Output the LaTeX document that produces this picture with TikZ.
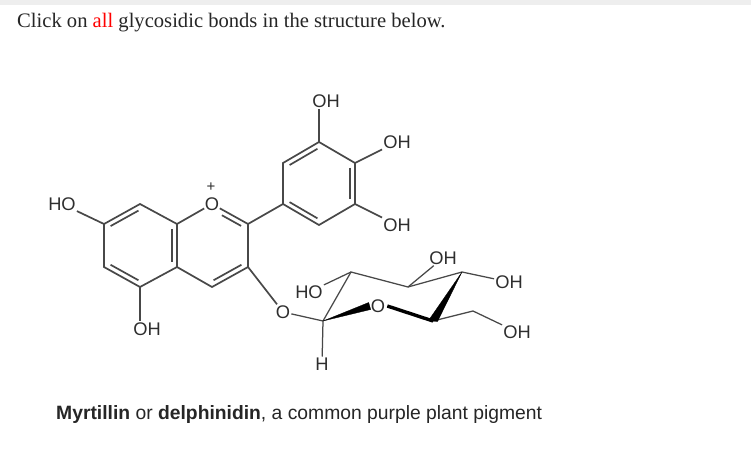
\documentclass[tikz,border=0pt]{standalone}
\usepackage{fontspec}
\setmainfont{Liberation Serif}
\newfontfamily\arialfont{Liberation Sans}
\usetikzlibrary{calc}
\definecolor{bondgray}{HTML}{484848}
\definecolor{inkgray}{HTML}{2E2E2E}
\definecolor{bandgray}{HTML}{EEEEEE}
\tikzset{
  atom/.style={font=\arialfont\fontsize{18.3}{20}\selectfont, text=inkgray, inner sep=1pt},
  bond/.style={draw=bondgray, line width=1.7pt},
  thinbond/.style={draw=bondgray, line width=1.25pt},
  wedge/.style={fill=black, draw=black, line width=0.3pt, line join=round},
  caption/.style={font=\arialfont\fontsize{19.3}{22}\selectfont, text=black!85, inner sep=0pt, anchor=base west},
  heading/.style={font=\fontsize{20.6}{24}\selectfont, text=black!85, inner sep=0pt, anchor=base west}
}
\newcommand{\innerbond}[3]{\draw[bond] ($(#1)!.05!(#2)!.14!(#3)$) -- ($(#2)!.05!(#1)!.14!(#3)$);}
\begin{document}
\begin{tikzpicture}[x=1pt,y=-1pt]
\useasboundingbox[fill=white] (0,0) rectangle (751,470);
\fill[bandgray] (0,0) rectangle (751,5);
\node[heading] (title) at (17,28) {Click on \textcolor{red}{all} glycosidic bonds in the structure below.};
\node[caption] (cap) at (56,419) {\textbf{Myrtillin} or \textbf{delphinidin}, a common purple plant pigment};
% ring A / C coordinates
\coordinate (c7) at (104,224); \coordinate (c8) at (140,204); \coordinate (c8a) at (177,224);
\coordinate (c2) at (248,224); \coordinate (c3) at (248,267); \coordinate (c4) at (212,287);
\coordinate (c4a) at (177,267); \coordinate (c5) at (140,287); \coordinate (c6) at (104,267);
\coordinate (cenA) at (140,245); \coordinate (cenC) at (212,245);
% ring B
\coordinate (b1) at (283,204); \coordinate (b2) at (283,163); \coordinate (b3) at (319,142);
\coordinate (b4) at (355,163); \coordinate (b5) at (355,204); \coordinate (b6) at (319,225);
\coordinate (cenB) at (319,184);
% sugar
\coordinate (s1) at (323,321); \coordinate (s2) at (351,272); \coordinate (s3) at (408,287);
\coordinate (s4) at (462,272); \coordinate (s5) at (433,321); \coordinate (s6) at (473,311);
% labels
\node[atom] (ho7) at (62,204) {HO};
\node[atom] (oh5) at (147,329) {OH};
\node[atom, inner sep=0.5pt] (op) at (212,204) {O};
\node[atom, inner sep=0pt, font=\arialfont\fontsize{15}{16}\selectfont] (plus) at (211,187) {+};
\node[atom] (oh3p) at (326,101) {OH};
\node[atom] (oh4p) at (397,142) {OH};
\node[atom] (oh5p) at (397,225) {OH};
\node[atom, inner sep=1pt] (o3) at (283,312) {O};
\node[atom] (ho2) at (309,292) {HO};
\node[atom] (oh3s) at (443,258) {OH};
\node[atom] (oh4s) at (509,282) {OH};
\node[atom] (oh6s) at (517,332) {OH};
\node[atom, inner sep=1pt] (os) at (378,306) {O};
\node[atom] (hs) at (322,364) {H};
% ring bonds
\draw[bond] (c7) -- (c8) -- (c8a) -- (c4a) -- (c5) -- (c6) -- cycle;
\draw[bond] (c8a) -- (op) -- (c2) -- (c3) -- (c4) -- (c4a);
\draw[bond] (b1) -- (b2) -- (b3) -- (b4) -- (b5) -- (b6) -- cycle;
\draw[bond] (c2) -- (b1);
\draw[bond] (c7) -- (ho7);
\draw[bond] (c5) -- (c5 |- oh5.north);
\draw[bond] (b3) -- (b3 |- oh3p.south);
\draw[bond] (b4) -- (oh4p);
\draw[bond] (b5) -- (oh5p);
\draw[bond] (c3) -- (o3);
\innerbond{c7}{c8}{cenA}
\innerbond{c5}{c6}{cenA}
\innerbond{c8a}{c4a}{cenA}
\innerbond{c3}{c4}{cenC}
\draw[bond] ($(op)!.32!(c2)!.14!(cenC)$) -- ($(c2)!.06!(op)!.14!(cenC)$);
\innerbond{b2}{b3}{cenB}
\innerbond{b4}{b5}{cenB}
\innerbond{b6}{b1}{cenB}
% sugar bonds
\draw[thinbond] (o3) -- (s1);
\draw[thinbond] (s1) -- (s2) -- (s3) -- (s4);
\draw[thinbond] (s2) -- (ho2);
\draw[thinbond] (s3) -- (oh3s);
\draw[thinbond] (s4) -- (oh4s);
\draw[thinbond] (s5) -- (s6) -- (oh6s);
\draw[thinbond] (s1) -- (hs);
% wedges
\fill[wedge] (s1) -- ($(os.west)+(-1,-3.5)$) -- ($(os.west)+(1,3.5)$) -- cycle;
\draw[black, line width=3.4pt] ($(os.east)+(1,0)$) -- (s5);
\fill[wedge] (s4) -- ($(s5)+(-4.5,-0.5)$) -- ($(s5)+(4.5,0.5)$) -- cycle;
\end{tikzpicture}
\end{document}
